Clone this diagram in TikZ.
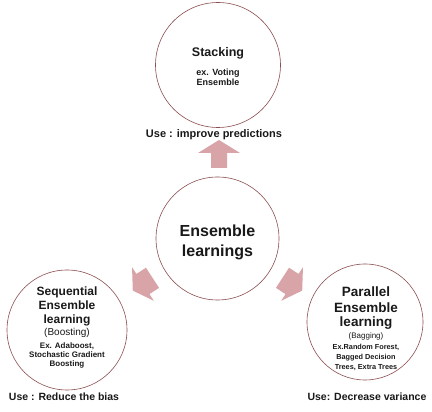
\documentclass[tikz,border=0pt]{standalone}
\usepackage{fontspec}
\setmainfont{Liberation Sans}
\definecolor{ringcol}{RGB}{140,78,80}
\definecolor{arrowfill}{RGB}{216,164,167}
\definecolor{textcol}{RGB}{25,25,25}
\newcommand{\fsz}[1]{\fontsize{#1}{#1}\selectfont}
\tikzset{
  ring/.style={circle, draw=ringcol, line width=0.6pt, fill=white, inner sep=0pt},
  txt/.style={anchor=base, inner sep=0pt, text=textcol},
  btxt/.style={txt, font=\fsz{#1}\bfseries},
  rtxt/.style={txt, font=\fsz{#1}},
  pics/barrow/.style n args={4}{code={
    \fill[arrowfill] (0,-#2) -- (#1,-#2) -- (#1,-#3) -- (#4,0) -- (#1,#3) -- (#1,#2) -- (0,#2) -- cycle;
  }}
}
\begin{document}
\begin{tikzpicture}[x=1pt,y=1pt]
\useasboundingbox (0,0) rectangle (432,412);
\fill[white] (0,0) rectangle (432,412);
% circles
\node[ring, minimum size=125] (stack) at (218,347) {};
\node[ring, minimum size=123] (center) at (217.5,173.5) {};
\node[ring, minimum size=120] (seq) at (67,82) {};
\node[ring, minimum size=116] (par) at (365,90) {};
% block arrows
\pic[rotate=90] at (219,244) {barrow={15}{8}{21}{28}};
\pic[rotate=213] at (152.5,134.2) {barrow={11.4}{12}{20}{23.5}};
\pic[rotate=-33] at (282.5,134.2) {barrow={11.4}{12}{20}{23.5}};
% stacking
\node[btxt=12.5] (s1) at (218,355) {Stacking};
\node[btxt=9] (s2) at (218,336) {ex. Voting};
\node[btxt=9] (s3) at (218,326) {Ensemble};
\node[btxt=11] (su) at (214,274) {Use : improve predictions};
% center
\node[btxt=16] (c1) at (217.5,175) {Ensemble};
\node[btxt=16] (c2) at (217.5,155) {learnings};
% sequential
\node[btxt=12] (q1) at (67,116) {Sequential};
\node[btxt=12] (q2) at (67,102) {Ensemble};
\node[btxt=12] (q3) at (67,88) {learning};
\node[rtxt=10] (q4) at (67,76) {(Boosting)};
\node[btxt=8] (q5) at (67,63.3) {Ex. Adaboost,};
\node[btxt=8] (q6) at (67,54) {Stochastic Gradient};
\node[btxt=8] (q7) at (67,45) {Boosting};
\node[btxt=10.5] (qu) at (64,11) {Use : Reduce the bias};
% parallel
\node[btxt=13.5] (p1) at (366,115.3) {Parallel};
\node[btxt=13.5] (p2) at (366,99.7) {Ensemble};
\node[btxt=13.5] (p3) at (366,85.3) {learning};
\node[rtxt=8] (p4) at (366,73.7) {(Bagging)};
\node[btxt=7.3] (p5) at (366,62.7) {Ex.Random Forest,};
\node[btxt=7.3] (p6) at (366,52.3) {Bagged Decision};
\node[btxt=7.3] (p7) at (366,42) {Trees, Extra Trees};
\node[btxt=10.5] (pu) at (367,11) {Use: Decrease variance};
\end{tikzpicture}
\end{document}
